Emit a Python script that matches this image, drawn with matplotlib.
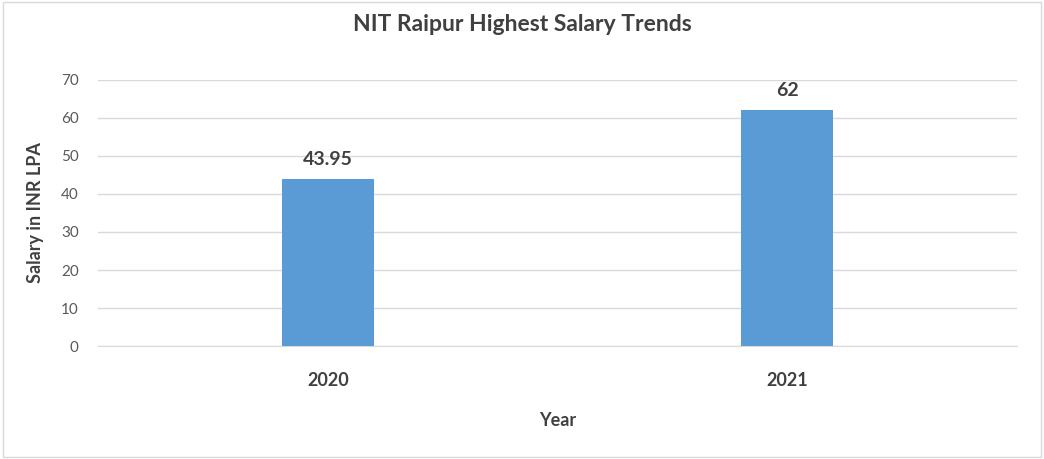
import matplotlib
matplotlib.use("Agg")
import matplotlib.pyplot as plt
from matplotlib.patches import Rectangle

years = ["2020", "2021"]
salaries = [43.95, 62]
labels = ["43.95", "62"]

plt.rcParams['font.family'] = ['Lato', 'DejaVu Sans']
fig = plt.figure(figsize=(10.44, 4.59), dpi=100)
fig.patches.append(Rectangle((0.003, 0.005), 0.994, 0.99, transform=fig.transFigure,
                             fill=False, edgecolor="#D9D9D9", linewidth=1))
ax = fig.add_axes([0.094, 0.246, 0.880, 0.580])
x = range(len(years))
bars = ax.bar(x, salaries, width=0.2, color="#5B9BD5", zorder=3)
for b, l in zip(bars, labels):
    ax.text(b.get_x() + b.get_width() / 2, b.get_height() + 3, l, ha="center", va="bottom",
            fontsize=14, fontweight="bold", color="#404040")
ax.set_xlim(-0.5, 1.5)
ax.set_ylim(0, 70)
ax.set_yticks(range(0, 71, 10))
ax.set_xticks(list(x))
ax.set_xticklabels(years, fontsize=13, fontweight="bold", color="#404040")
ax.tick_params(axis="y", labelsize=11, colors="#595959", length=0, pad=14)
ax.tick_params(axis="x", length=0, pad=19)
ax.grid(axis="y", color="#D9D9D9", linewidth=1, zorder=0)
for s in ax.spines.values():
    s.set_visible(False)
ax.spines["bottom"].set_visible(True)
ax.spines["bottom"].set_color("#D9D9D9")
ax.set_ylabel("Salary in INR LPA", fontsize=13, fontweight="bold", color="#404040", labelpad=12)
ax.set_xlabel("Year", fontsize=13, fontweight="bold", color="#404040", labelpad=16)
fig.suptitle("NIT Raipur Highest Salary Trends", y=0.97, fontsize=16.5, fontweight="bold", color="#404040")
fig.savefig("out.png", dpi=100)
